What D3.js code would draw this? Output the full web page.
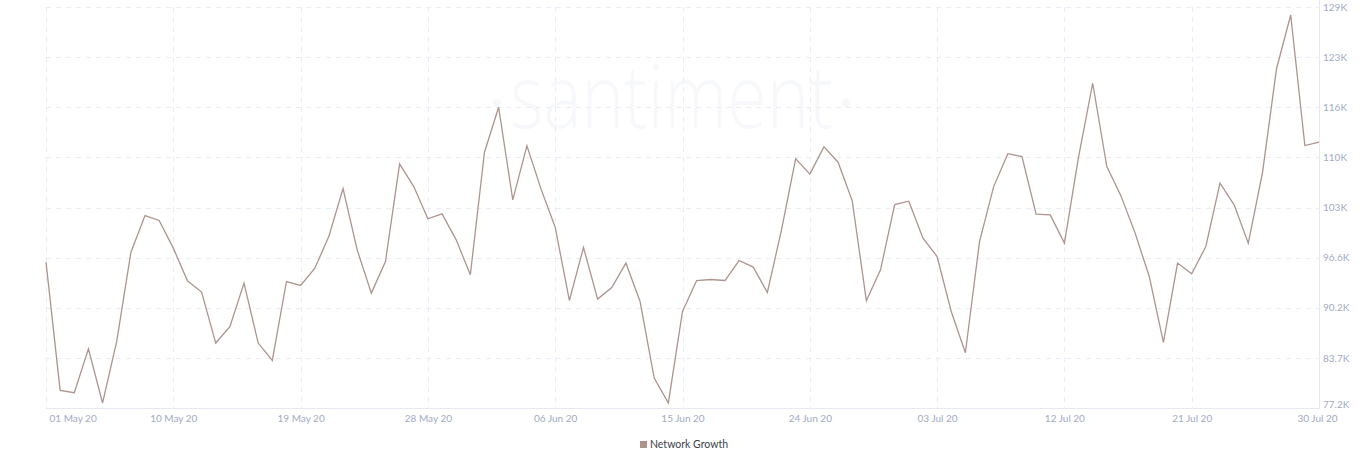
<!DOCTYPE html>
<html>
<head>
<meta charset="utf-8">
<script src="https://cdn.jsdelivr.net/npm/d3@7"></script>
<style>
  body { margin: 0; background: #fff; }
  svg { display: block; }
  .axis text { font-family: Lato, "Open Sans", sans-serif; font-size: 10px; fill: #9faac4; }
  .axis path, .axis line { display: none; }
  .grid line { stroke: #e9ecf4; stroke-dasharray: 5,5; shape-rendering: crispEdges; }
  .legend text { font-family: Lato, "Open Sans", sans-serif; font-size: 10.5px; fill: #3a3f4a; }
</style>
</head>
<body>
<div id="chart"></div>
<script>
// Network Growth, daily, 01 May 20 -> 30 Jul 20
const startDate = new Date(2020, 4, 1);
const networkGrowth = [
  96050, 79470, 79170, 84850, 77850, 85800, 97290, 102060, 101420, 97850,
  93630, 92170, 85590, 87690, 93330, 85590, 83340, 93540, 93030, 95220,
  99380, 105550, 97630, 92040, 96120, 108730, 105800, 101640, 102280, 98920,
  94410, 110240, 116050, 104090, 111060, 105470, 100560, 91090, 97930, 91270,
  92770, 95920, 90960, 81070, 77850, 89670, 93670, 93800, 93670, 96250,
  95400, 92120, 100220, 109420, 107410, 110930, 108950, 103960, 91050, 95050,
  103480, 103920, 99140, 96770, 89670, 84340, 98700, 105800, 110060, 109680,
  102240, 102150, 98500, 109600, 119150, 108390, 104600, 99790, 94190, 85670,
  95920, 94540, 98060, 106240, 103440, 98500, 107530, 121060, 127970, 111100,
  111540
];
const xTickDates = ['2020-05-01', '2020-05-10', '2020-05-19', '2020-05-28', '2020-06-06',
  '2020-06-15', '2020-06-24', '2020-07-03', '2020-07-12', '2020-07-21', '2020-07-30'];
const yTickValues = [77200, 83675, 90150, 96625, 103100, 109575, 116050, 122525, 129000];
const seriesName = 'Network Growth';

const width = 1366, height = 462;
const margin = { top: 7, right: 47, bottom: 54, left: 46 };
const lineColor = '#ad948d';

const data = networkGrowth.map((v, i) => ({ date: d3.timeDay.offset(startDate, i), value: v }));
const parseDay = d3.timeParse('%Y-%m-%d');
const xTicks = xTickDates.map(parseDay);

const svg = d3.select('#chart').append('svg')
  .attr('width', width)
  .attr('height', height);

const x = d3.scaleTime()
  .domain(d3.extent(data, d => d.date))
  .range([margin.left, width - margin.right]);

const y = d3.scaleLinear()
  .domain([yTickValues[0], yTickValues[yTickValues.length - 1]])
  .range([height - margin.bottom, margin.top]);

// watermark
svg.append('text')
  .attr('x', 510)
  .attr('y', 128)
  .attr('textLength', 323)
  .attr('lengthAdjust', 'spacingAndGlyphs')
  .style('font-family', '"Open Sans", sans-serif')
  .style('font-weight', 300)
  .style('font-size', '88px')
  .style('fill', '#f7f8fc')
  .text('santiment');
svg.selectAll('.wm-dot')
  .data([497, 846])
  .enter().append('circle')
  .attr('cx', d => d)
  .attr('cy', 103)
  .attr('r', 4)
  .style('fill', '#f7f8fc');

// horizontal grid
svg.append('g')
  .attr('class', 'grid')
  .selectAll('line')
  .data(yTickValues.slice(1))
  .enter().append('line')
  .attr('x1', margin.left)
  .attr('x2', width - margin.right)
  .attr('y1', d => Math.round(y(d)) + 0.5)
  .attr('y2', d => Math.round(y(d)) + 0.5);

// vertical grid
svg.append('g')
  .attr('class', 'grid')
  .selectAll('line')
  .data(xTicks.slice(0, -1))
  .enter().append('line')
  .attr('x1', d => Math.round(x(d)) + 0.5)
  .attr('x2', d => Math.round(x(d)) + 0.5)
  .attr('y1', margin.top)
  .attr('y2', height - margin.bottom);

// axis lines
svg.append('line')
  .attr('x1', margin.left)
  .attr('x2', width - margin.right + 1)
  .attr('y1', height - margin.bottom + 0.5)
  .attr('y2', height - margin.bottom + 0.5)
  .style('stroke', '#e6e9f1');
svg.append('line')
  .attr('x1', width - margin.right + 0.5)
  .attr('x2', width - margin.right + 0.5)
  .attr('y1', 0)
  .attr('y2', height - margin.bottom)
  .style('stroke', '#e6e9f1');

// x axis
const xAxis = svg.append('g')
  .attr('class', 'axis x-axis')
  .attr('transform', `translate(0,${height - margin.bottom + 4})`)
  .call(d3.axisBottom(x)
    .tickValues(xTicks)
    .tickSize(0)
    .tickFormat(d3.timeFormat('%d %b %y')));

// keep the first and last labels inside the chart
xAxis.selectAll('.tick text').each(function (d) {
  const w = this.getComputedTextLength();
  const minX = margin.left + 3 + w / 2;
  const maxX = width - margin.right + 18 - w / 2;
  const px = x(d);
  if (px < minX) d3.select(this).attr('dx', minX - px);
  if (px > maxX) d3.select(this).attr('dx', maxX - px);
});

// y axis
const fmt = d3.format('.3s');
svg.append('g')
  .attr('class', 'axis y-axis')
  .attr('transform', `translate(${width - margin.right + 1},0)`)
  .call(d3.axisRight(y)
    .tickValues(yTickValues)
    .tickSize(0)
    .tickFormat(d => fmt(d).toUpperCase()))
  .selectAll('.tick text')
  .attr('dy', d => d === yTickValues[0] ? '-0.1em' : '0.32em');

// series
svg.append('path')
  .datum(data)
  .attr('fill', 'none')
  .attr('stroke', lineColor)
  .attr('stroke-width', 1.3)
  .attr('stroke-linejoin', 'miter')
  .attr('d', d3.line().x(d => x(d.date)).y(d => y(d.value)));

// legend
const legend = svg.append('g')
  .attr('class', 'legend')
  .attr('transform', 'translate(640,444)');
legend.append('rect')
  .attr('x', 0)
  .attr('y', -3)
  .attr('width', 7)
  .attr('height', 7)
  .style('fill', lineColor);
legend.append('text')
  .attr('x', 10)
  .attr('y', 4)
  .text(seriesName);
</script>
</body>
</html>
